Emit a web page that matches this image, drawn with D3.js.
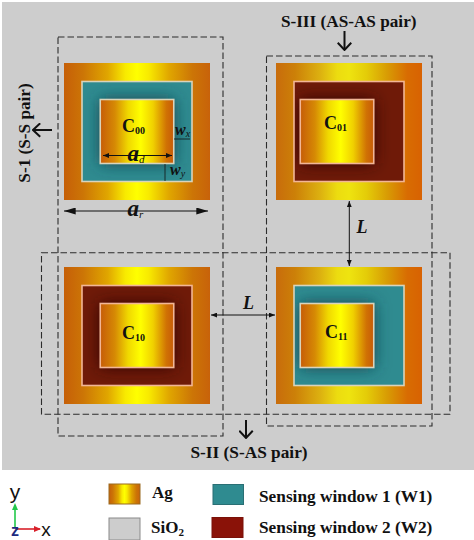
<!DOCTYPE html>
<html>
<head>
<meta charset="utf-8">
<style>
  html, body { margin: 0; padding: 0; background: #fff; }
  text { font-family: "Liberation Serif", serif; font-weight: bold; fill: #111; }
</style>
</head>
<body>
<svg id="chart" width="474" height="540"></svg>
<script src="https://cdn.jsdelivr.net/npm/d3@7.9.0/dist/d3.min.js"></script>
<script>
// Unit cell data
const cellNames = ['00', '01', '10', '11'];
const cellCols = [0, 1, 0, 1];
const cellRows = [0, 0, 1, 1];
const cellWindows = ['W1', 'W2', 'W2', 'W1'];
const discShifts = [0, -12, 0, -12]; // disc offset in the window, asymmetric cells

// Structure sizes [width, height]
const ringSize = [146, 137];
const windowSize = [110, 100];
const discSize = [73.5, 64];

// Legend
const legendLabels = ['Ag', 'SiO', 'Sensing window 1 (W1)', 'Sensing window 2 (W2)'];
const windowColors = { W1: '#2f8b90', W2: '#6f1a08' };
const windowShadows = { W1: '#123f4c', W2: '#2c0802' };
const windowBorders = { W1: '#d9d4bc', W2: '#f2b696' };

const svg = d3.select('#chart');
const defs = svg.append('defs');

const colX = d3.scalePoint().domain([0, 1]).range([137, 349]);
const rowY = d3.scalePoint().domain([0, 1]).range([131.5, 335.5]);

function addGradient(id, stops) {
    const g = defs.append('linearGradient').attr('id', id);
    stops.forEach(s => g.append('stop').attr('offset', s[0]).attr('stop-color', s[1]));
}

addGradient('ag', [[0, '#c65f08'], [0.13, '#cc7506'], [0.3, '#e0a600'], [0.42, '#f8ea00'],
    [0.5, '#ffff00'], [0.58, '#f8ea00'], [0.72, '#e0a600'], [0.88, '#cc7506'], [1, '#c8620a']]);
addGradient('agDim', [[0, '#c86c0c'], [0.13, '#cc8008'], [0.3, '#dcb010'], [0.42, '#ecdc10'],
    [0.5, '#eee410'], [0.62, '#e4cc08'], [0.76, '#d89c04'], [0.9, '#d86c02'], [1, '#d86202']]);
addGradient('disc', [[0, '#c65c08'], [0.2, '#d68a04'], [0.38, '#f0d800'], [0.55, '#ffff00'],
    [0.72, '#f0d000'], [0.9, '#d07204'], [1, '#c65a08']]);

defs.append('filter').attr('id', 'soft')
    .attr('x', '-50%').attr('y', '-50%').attr('width', '200%').attr('height', '200%')
    .append('feGaussianBlur').attr('stdDeviation', 8);

// arrow heads
defs.append('marker').attr('id', 'head').attr('viewBox', '0 0 10 6')
    .attr('refX', 10).attr('refY', 3)
    .attr('markerUnits', 'userSpaceOnUse').attr('markerWidth', 14).attr('markerHeight', 7)
    .attr('orient', 'auto-start-reverse')
    .append('path').attr('d', 'M0,0L10,3L0,6Z').attr('fill', '#111');
defs.append('marker').attr('id', 'smallHead').attr('viewBox', '0 0 10 8')
    .attr('refX', 10).attr('refY', 4)
    .attr('markerUnits', 'userSpaceOnUse').attr('markerWidth', 6).attr('markerHeight', 5)
    .attr('orient', 'auto-start-reverse')
    .append('path').attr('d', 'M0,0L10,4L0,8Z').attr('fill', '#111');
defs.append('marker').attr('id', 'vee').attr('viewBox', '0 0 10 16')
    .attr('refX', 9).attr('refY', 8)
    .attr('markerUnits', 'userSpaceOnUse').attr('markerWidth', 9).attr('markerHeight', 15)
    .attr('orient', 'auto')
    .append('path').attr('d', 'M1,0.5L9,8L1,15.5').attr('fill', 'none')
    .attr('stroke', '#111').attr('stroke-width', 2.2);

// substrate
svg.append('rect').attr('x', 2).attr('y', 2).attr('width', 472).attr('height', 468).attr('fill', '#cdcdcd');

// unit cells
const cells = cellNames.map((name, i) => ({
    name,
    cx: colX(cellCols[i]),
    cy: rowY(cellRows[i]),
    win: cellWindows[i],
    shift: discShifts[i]
}));

function centered(sel, size, dx) {
    return sel.attr('x', d => d.cx + (dx ? d.shift : 0) - size[0] / 2)
        .attr('y', d => d.cy - size[1] / 2)
        .attr('width', size[0]).attr('height', size[1]);
}

const cell = svg.selectAll('g.cell').data(cells).enter().append('g').attr('class', 'cell');

centered(cell.append('rect'), ringSize, false)
    .attr('fill', d => d.shift ? 'url(#agDim)' : 'url(#ag)');

cell.append('clipPath').attr('id', d => 'clip' + d.name)
    .call(c => centered(c.append('rect'), windowSize, false));

centered(cell.append('rect'), windowSize, false)
    .attr('fill', d => windowColors[d.win]);

cell.append('g').attr('clip-path', d => `url(#clip${d.name})`)
    .call(g => centered(g.append('rect'), discSize, true)
        .attr('fill', d => windowShadows[d.win])
        .attr('filter', 'url(#soft)'));

centered(cell.append('rect'), windowSize, false)
    .attr('fill', 'none')
    .attr('stroke', d => windowBorders[d.win])
    .attr('stroke-width', 1.6);

centered(cell.append('rect'), discSize, true)
    .attr('fill', 'url(#disc)')
    .attr('stroke', d => windowBorders[d.win])
    .attr('stroke-width', 1.6);

// cell labels sit slightly differently in each cell of the original
const labelNudgeX = [0, 2, 0, 3];
const labelNudgeY = [0.5, -2.5, 3.5, 2];
const cellLabel = cell.append('text')
    .attr('x', (d, i) => d.cx + d.shift - 15 + labelNudgeX[i])
    .attr('y', (d, i) => d.cy + labelNudgeY[i])
    .style('font-size', '18px')
    .text('C');
cellLabel.append('tspan').attr('dy', 2).style('font-size', '10px').text(d => d.name);

// dashed groups
const dashed = [[58, 37, 165, 399], [266.5, 56, 165.5, 370], [41.5, 252.7, 408.5, 161.6]];
svg.selectAll('rect.group').data(dashed).enter().append('rect')
    .attr('class', 'group')
    .attr('x', d => d[0]).attr('y', d => d[1]).attr('width', d => d[2]).attr('height', d => d[3])
    .attr('fill', 'none').attr('stroke', '#2c2c2c').attr('stroke-width', 1.1)
    .attr('stroke-dasharray', '6.5,3');

// arrows
function arrow(x1, y1, x2, y2, opts) {
    const o = opts || {};
    const l = svg.append('line').attr('x1', x1).attr('y1', y1).attr('x2', x2).attr('y2', y2)
        .attr('stroke', o.color || '#111').attr('stroke-width', o.width || 1);
    if (o.start) l.attr('marker-start', `url(#${o.start})`);
    if (o.end) l.attr('marker-end', `url(#${o.end})`);
    return l;
}

arrow(103, 155.5, 172, 155.5, { start: 'smallHead', end: 'smallHead', width: 1.2 });
arrow(64, 211, 208, 211, { start: 'head', end: 'head', width: 1.2 });
arrow(174, 139, 190, 139, { width: 0.8 });
arrow(165, 164, 165, 181, { width: 0.8 });
arrow(349.3, 201, 349.3, 266, { start: 'smallHead', end: 'smallHead' });
arrow(211, 315, 275, 315, { start: 'smallHead', end: 'smallHead' });
arrow(344.5, 31, 344.5, 50, { end: 'vee', width: 2 });
arrow(52, 130, 33, 130, { end: 'vee', width: 2 });
arrow(246, 420, 246, 438, { end: 'vee', width: 2 });

// text labels
function label(x, y, str, size, anchor) {
    return svg.append('text').attr('x', x).attr('y', y)
        .attr('text-anchor', anchor || 'start')
        .style('font-size', size + 'px').text(str);
}

function italicSub(x, y, main, sub, size, subSize) {
    const t = label(x, y, main, size).style('font-style', 'italic');
    t.append('tspan').attr('dy', 2).style('font-size', subSize + 'px').style('font-weight', 'normal').text(sub);
}

label(348.7, 27, 'S-III (AS-AS pair)', 17.2, 'middle');
label(249, 458, 'S-II (S-AS pair)', 17.3, 'middle');
label(0, 0, 'S-1 (S-S pair)', 17.2, 'middle').attr('transform', 'translate(29.5,133) rotate(-90)');

italicSub(127.5, 161, 'a', 'd', 23, 11);
italicSub(127.5, 216, 'a', 'r', 23, 11);
italicSub(175, 135, 'w', 'x', 16, 10);
italicSub(170, 175, 'w', 'y', 16, 10);
label(356.5, 233, 'L', 18).style('font-style', 'italic');
label(243, 309, 'L', 18).style('font-style', 'italic');

// legend
const swatches = [
    [109, 484, 31, 20, 'url(#ag)', '#9a6a20'],
    [109, 518, 31, 22, '#cdcdcd', '#8a8a8a'],
    [213, 484.5, 30.5, 20, windowColors.W1, '#2a6f74'],
    [212, 517.5, 31, 20, '#8a1208', '#7a1008']
];
svg.selectAll('rect.swatch').data(swatches).enter().append('rect')
    .attr('class', 'swatch')
    .attr('x', d => d[0]).attr('y', d => d[1]).attr('width', d => d[2]).attr('height', d => d[3])
    .attr('fill', d => d[4]).attr('stroke', d => d[5]);

label(152, 498, legendLabels[0], 17);
label(151, 533, legendLabels[1], 17)
    .append('tspan').attr('dy', 3).style('font-size', '11px').text('2');
label(259, 502, legendLabels[2], 17.3);
label(259, 533, legendLabels[3], 17.3);

// coordinate triad
const sans = '"Liberation Sans", sans-serif';
arrow(15, 527, 15, 507, { color: '#22c84a', width: 1.6 });
arrow(16, 529, 40, 529, { color: '#d8202a', width: 1.6 });
svg.append('path').attr('d', 'M15,503L12,510L18,510Z').attr('fill', '#22c84a');
svg.append('path').attr('d', 'M41,529L34,526L34,532Z').attr('fill', '#d8202a');
label(15, 499, 'y', 21, 'middle').style('font-family', sans).style('font-weight', 'normal');
label(46, 536, 'x', 19, 'middle').style('font-family', sans).style('font-weight', 'normal');
label(15, 536, 'z', 16, 'middle').style('font-family', sans).style('fill', '#1c2a80');
</script>
</body>
</html>
